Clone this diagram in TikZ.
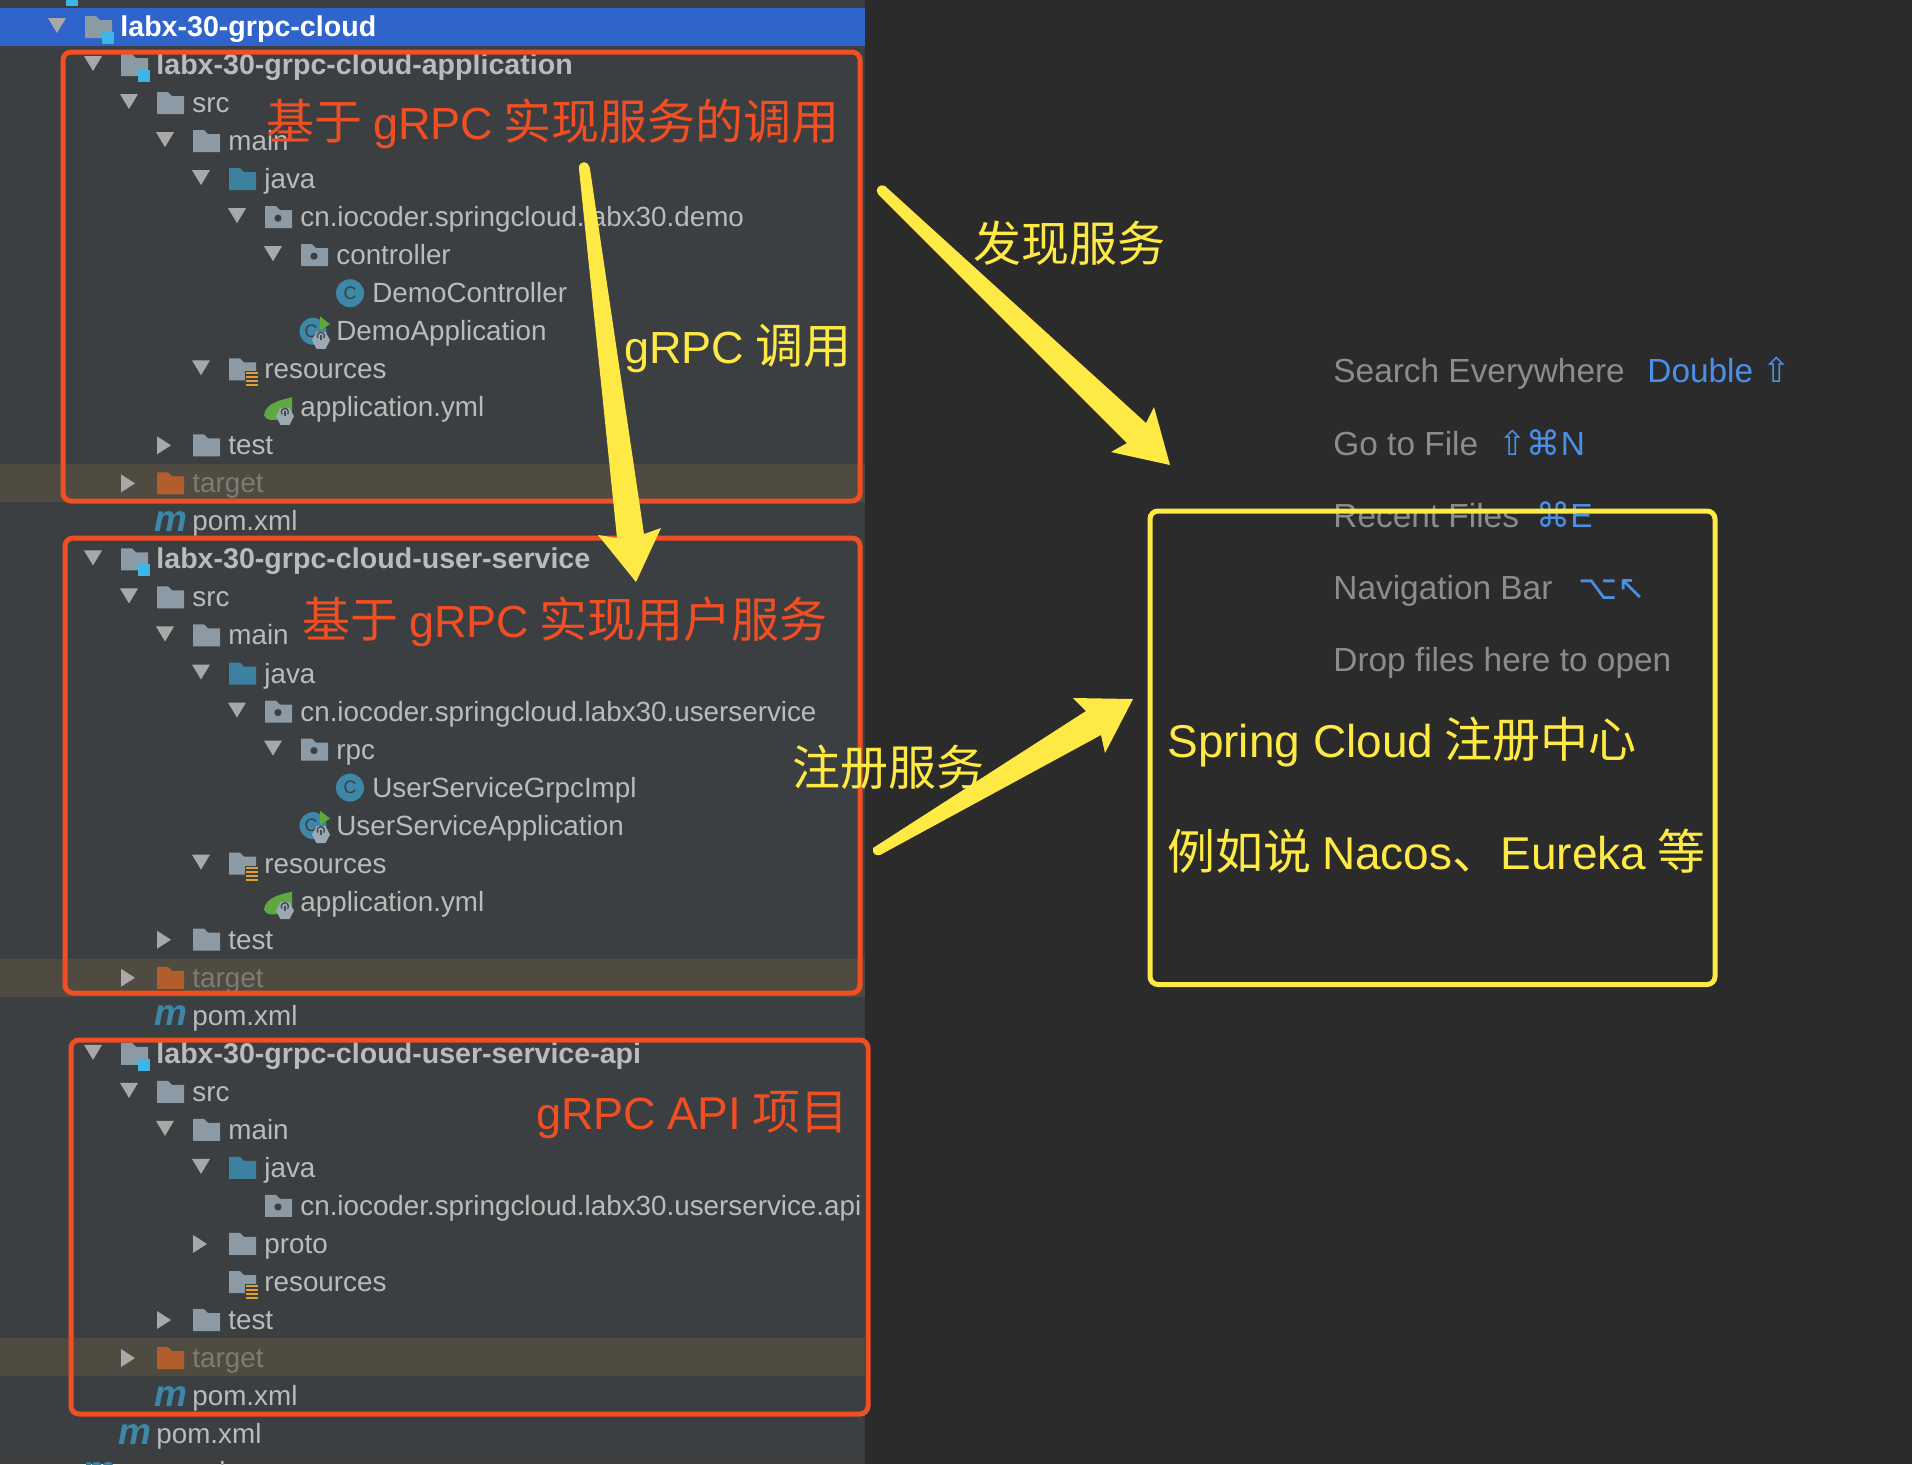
\documentclass[tikz,border=0pt]{standalone}
\usepackage{fontspec}
\setmainfont{Liberation Sans}
\newfontfamily\cjk{Noto Sans CJK SC}
\newfontfamily\symf{DejaVu Sans}
\newfontfamily\pomf{Liberation Sans}
\definecolor{panel}{HTML}{3C3F41}
\definecolor{dark}{HTML}{2B2B2B}
\definecolor{sel}{HTML}{2F65CA}
\definecolor{tgt}{HTML}{4F4B41}
\definecolor{txt}{HTML}{BBBBBB}
\definecolor{tgttxt}{HTML}{7D7B74}
\definecolor{fold}{HTML}{8C9AA5}
\definecolor{jfold}{HTML}{3D81A1}
\definecolor{ofold}{HTML}{B35C2C}
\definecolor{cyansq}{HTML}{3DB5E6}
\definecolor{tri}{HTML}{A8A8A8}
\definecolor{cls}{HTML}{3D87A8}
\definecolor{grn}{HTML}{5FA83F}
\definecolor{stripe}{HTML}{E0A030}
\definecolor{redl}{HTML}{F04E23}
\definecolor{yel}{HTML}{FFE945}
\definecolor{hint}{HTML}{8C8C8C}
\definecolor{blu}{HTML}{4A90E8}
\newcommand\keysym[1]{{\symf\fontsize{17}{17}\selectfont #1}}
\newcommand\latn[1]{{\rmfamily\fontsize{23}{28}\selectfont #1}}
\newcommand\grpc{{\rmfamily\fontsize{22.5}{28}\selectfont gRPC}}
\tikzset{
  x=0.5pt,y=-0.5pt,
  rowtext/.style={anchor=base west,inner sep=0pt,text=txt,font=\fontsize{13.9}{16}\selectfont},
  modtext/.style={rowtext,font=\fontsize{14.3}{16}\selectfont\bfseries},
  redbox/.style={draw=redl,line width=2.5pt,rounded corners=4pt},
  yelbox/.style={draw=yel,line width=2.5pt,rounded corners=4pt},
  arrowshape/.style={fill=yel,draw=none},
  redlabel/.style={anchor=base west,inner sep=0pt,text=redl,font=\cjk\fontsize{24}{28}\selectfont},
  yellabel/.style={anchor=base west,inner sep=0pt,text=yel,font=\cjk\fontsize{24}{28}\selectfont},
  hinttext/.style={anchor=base west,inner sep=0pt,text=hint,font=\fontsize{16.7}{20}\selectfont},
  hintkey/.style={anchor=base west,inner sep=0pt,text=blu,font=\fontsize{16.7}{20}\selectfont},
}
% icons: local origin = left of row text, at row centre
\newcommand\folderat[1]{\fill[#1] (-35,-11) -- (-24,-11) -- (-20,-7) -- (-8,-7) -- (-8,11) -- (-35,11) -- cycle;}
\newcommand\ifold{\folderat{fold}}
\newcommand\ijava{\folderat{jfold}}
\newcommand\itgt{\folderat{ofold}}
\newcommand\ipkg{\folderat{fold}\fill[panel] (-22,1) circle (3.6);}
\newcommand\imod{\folderat{fold}\fill[cyansq] (-18,5) rectangle (-6,17);}
\newcommand\ires{\folderat{fold}\fill[panel] (-19,2) rectangle (-6,18);\foreach \s in {3,7,11,15}{\fill[stripe] (-18,\s) rectangle (-6,\s+2.2);}}
\newcommand\ihex[2]{\fill[fold!85!white] (#1-9,#2) -- (#1-4.5,#2-8.5) -- (#1+4.5,#2-8.5) -- (#1+9,#2) -- (#1+4.5,#2+8.5) -- (#1-4.5,#2+8.5) -- cycle;
  \draw[panel!80!cls,line width=0.7pt] (#1+2.6,#2-2) arc[start angle=-40,end angle=220,x radius=3.6,y radius=-3.6];
  \draw[panel!80!cls,line width=0.7pt] (#1,#2-5) -- (#1,#2);}
\newcommand\icls{\fill[cls] (-22,0) circle (14);\node[inner sep=0pt,text=panel,font=\fontsize{9}{9}\selectfont] at (-22,0) {C};}
\newcommand\iapp{\fill[cls] (-23,0) circle (13.5);\node[inner sep=0pt,text=panel,font=\fontsize{9}{9}\selectfont] at (-25,0) {C};
  \fill[grn] (-16,-15) -- (-6,-7) -- (-16,-1) -- cycle;\ihex{-15}{9}}
\newcommand\iyml{\fill[grn] (-8,-10) .. controls (-16,-8) and (-35,-5) .. (-36,8) .. controls (-34,14) and (-26,13) .. (-20,12) -- (-8,4) -- cycle;\ihex{-15}{9}}
\newcommand\ipom{\node[anchor=base west,inner sep=0pt,text=cls,font=\pomf\fontsize{18.5}{20}\selectfont\bfseries\itshape] at (-38,10) {m};}
\newcommand\tdn{\fill[tri] (-72,-9) -- (-54,-9) -- (-63,6) -- cycle;}
\newcommand\trt{\fill[tri] (-71,-9) -- (-57,0) -- (-71,9) -- cycle;}
\newcommand\tno{}
% row, text x, icon, triangle, style, text
\newcommand\trow[6]{\begin{scope}[shift={(#2,{27+38.03*#1})}]#4#3\node[#5] (r#1) at (0,9.5) {#6};\end{scope}}
\begin{document}
\begin{tikzpicture}
\useasboundingbox (0,0) rectangle (1912,1464);
\clip (0,0) rectangle (1912,1464);
\fill[panel] (0,0) rectangle (865,1464);
\fill[cyansq] (66,0) rectangle (78,6);
\fill[sel] (0,8) rectangle (865,46);
\fill[tgt] (0,464) rectangle (865,502);
\fill[tgt] (0,959) rectangle (865,997);
\fill[tgt] (0,1338) rectangle (865,1376);
\trow{0}{120}{\imod}{\tdn}{modtext,text=white}{labx-30-grpc-cloud}
\trow{1}{156}{\imod}{\tdn}{modtext}{labx-30-grpc-cloud-application}
\trow{2}{192}{\ifold}{\tdn}{rowtext}{src}
\trow{3}{228}{\ifold}{\tdn}{rowtext}{main}
\trow{4}{264}{\ijava}{\tdn}{rowtext}{java}
\trow{5}{300}{\ipkg}{\tdn}{rowtext}{cn.iocoder.springcloud.labx30.demo}
\trow{6}{336}{\ipkg}{\tdn}{rowtext}{controller}
\trow{7}{372}{\icls}{\tno}{rowtext}{DemoController}
\trow{8}{336}{\iapp}{\tno}{rowtext}{DemoApplication}
\trow{9}{264}{\ires}{\tdn}{rowtext}{resources}
\trow{10}{300}{\iyml}{\tno}{rowtext}{application.yml}
\trow{11}{228}{\ifold}{\trt}{rowtext}{test}
\trow{12}{192}{\itgt}{\trt}{rowtext,text=tgttxt}{target}
\trow{13}{192}{\ipom}{\tno}{rowtext}{pom.xml}
\trow{14}{156}{\imod}{\tdn}{modtext}{labx-30-grpc-cloud-user-service}
\trow{15}{192}{\ifold}{\tdn}{rowtext}{src}
\trow{16}{228}{\ifold}{\tdn}{rowtext}{main}
\trow{17}{264}{\ijava}{\tdn}{rowtext}{java}
\trow{18}{300}{\ipkg}{\tdn}{rowtext}{cn.iocoder.springcloud.labx30.userservice}
\trow{19}{336}{\ipkg}{\tdn}{rowtext}{rpc}
\trow{20}{372}{\icls}{\tno}{rowtext}{UserServiceGrpcImpl}
\trow{21}{336}{\iapp}{\tno}{rowtext}{UserServiceApplication}
\trow{22}{264}{\ires}{\tdn}{rowtext}{resources}
\trow{23}{300}{\iyml}{\tno}{rowtext}{application.yml}
\trow{24}{228}{\ifold}{\trt}{rowtext}{test}
\trow{25}{192}{\itgt}{\trt}{rowtext,text=tgttxt}{target}
\trow{26}{192}{\ipom}{\tno}{rowtext}{pom.xml}
\trow{27}{156}{\imod}{\tdn}{modtext}{labx-30-grpc-cloud-user-service-api}
\trow{28}{192}{\ifold}{\tdn}{rowtext}{src}
\trow{29}{228}{\ifold}{\tdn}{rowtext}{main}
\trow{30}{264}{\ijava}{\tdn}{rowtext}{java}
\trow{31}{300}{\ipkg}{\tno}{rowtext}{cn.iocoder.springcloud.labx30.userservice.api}
\trow{32}{264}{\ifold}{\trt}{rowtext}{proto}
\trow{33}{264}{\ires}{\tno}{rowtext}{resources}
\trow{34}{228}{\ifold}{\trt}{rowtext}{test}
\trow{35}{192}{\itgt}{\trt}{rowtext,text=tgttxt}{target}
\trow{36}{192}{\ipom}{\tno}{rowtext}{pom.xml}
\trow{37}{156}{\ipom}{\tno}{rowtext}{pom.xml}
\trow{38}{120}{\ipom}{\tno}{rowtext}{pom.xml}
% dark right side
\fill[dark] (865,0) rectangle (1912,1464);
% hints
\node[hinttext] (h1) at (1333,382.5) {Search Everywhere};
\node[hintkey] (h1k) at (1647,382.5) {Double \keysym{⇧}};
\node[hinttext] (h2) at (1333,455) {Go to File};
\node[hintkey] (h2k) at (1498,455) {\keysym{⇧⌘}N};
\node[hinttext] (h3) at (1333,527.5) {Recent Files};
\node[hintkey] (h3k) at (1536,527.5) {\keysym{⌘}E};
\node[hinttext] (h4) at (1333,599.5) {Navigation Bar};
\node[hintkey] (h4k) at (1578,599.5) {\keysym{⌥↖}};
\node[hinttext] (h5) at (1333,671.5) {Drop files here to open};
% boxes
\draw[redbox] (63,52) rectangle (860,501);
\draw[redbox] (65,538) rectangle (860,993);
\draw[redbox] (71,1040) rectangle (868,1414);
\draw[yelbox] (1150,511) rectangle (1715,984.5);
% labels
\node[redlabel] (l1) at (266,139) {基于 \grpc{} 实现服务的调用};
\node[redlabel] (l2) at (302,637) {基于 \grpc{} 实现用户服务};
\node[redlabel] (l3) at (536,1129) {\grpc{} \latn{API} 项目};
\node[yellabel] (l4) at (624,363) {\grpc{} 调用};
\node[yellabel] (l5) at (973,261) {发现服务};
\node[yellabel] (l6) at (792,785) {注册服务};
\node[yellabel] (l7) at (1167,757) {\latn{Spring Cloud} 注册中心};
\node[yellabel] (l8) at (1167,869) {例如说 \latn{Nacos}、\latn{Eureka} 等};
% arrows
\fill[arrowshape] (579,169) .. controls (578,160) and (589,160) .. (590,169) -- (644,534) -- (661,528) -- (636,582) -- (598,535) -- (617,538) -- cycle;
\fill[arrowshape] (885,186) .. controls (880,183) and (874,189) .. (878,194) -- (1127,443) -- (1111,452) -- (1170,465) -- (1154,407) -- (1146,423) -- cycle;
\fill[arrowshape] (873,848) .. controls (872,854) and (876,856) .. (880,855) -- (1101,735) -- (1105,753) -- (1133,699) -- (1073,698) -- (1086,711) -- cycle;
\end{tikzpicture}
\end{document}
